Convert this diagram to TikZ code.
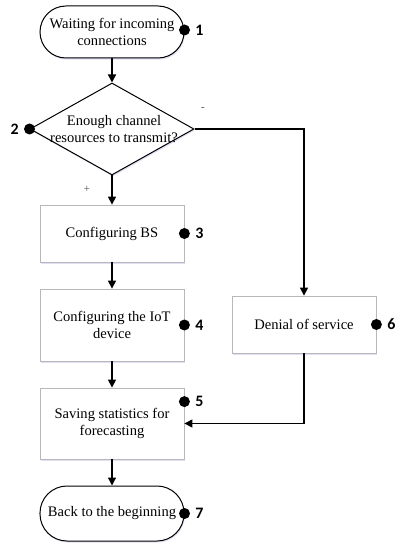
\documentclass[tikz,border=0pt]{standalone}
\usepackage{fontspec}
\setmainfont{Liberation Serif}
\newfontfamily\numfont{Carlito}
\usetikzlibrary{arrows.meta,shapes.geometric,shadows,positioning}

\begin{document}
\begin{tikzpicture}[x=1bp, y=-1bp,
  every node/.style={font=\fontsize{14.6}{17}\selectfont},
  blueshadow/.style={drop shadow={shadow xshift=0.8bp, shadow yshift=-1.6bp, fill=cyan!25!blue!12, opacity=1}},
  term/.style={draw, line width=1bp, rounded corners=26bp, minimum width=144bp, minimum height=52bp, inner sep=0pt, align=center, fill=white, blueshadow},
  decision/.style={draw, diamond, line width=1bp, minimum width=164bp, minimum height=92bp, inner sep=0pt, fill=white, blueshadow},
  procbox/.style={draw=black!28, line width=0.8bp, minimum width=144bp, minimum height=57bp, inner sep=0pt, align=center, fill=white, blueshadow},
  dot/.style={circle, fill=black, inner sep=0pt, minimum size=11bp},
  numfont/.style={font=\numfont\bfseries\fontsize{16}{16}\selectfont, inner sep=0pt},
  num/.style={numfont, right=5bp of #1},
  sign/.style={font=\fontsize{11}{11}\selectfont, text=black!70, inner sep=0pt},
  arr/.style={line width=1.3bp, -{Triangle[length=8bp, width=8bp]}}
]
\useasboundingbox (0,0) rectangle (404,550);

\node[term] (start) at (112,32) {Waiting for incoming\\connections};
\node[decision] (check) at (112,129) {};
\node[align=center, inner sep=0pt] (checktext) at ([xshift=2bp]check.center) {Enough channel\\resources to transmit?};
\node[procbox] (bs) at (112,233.5) {Configuring BS};
\node[procbox, minimum height=72bp] (iot) at (112,325) {Configuring the IoT\\device};
\node[procbox, minimum height=71bp] (save) at (112,423.5) {Saving statistics for\\forecasting};
\node[procbox] (deny) at (304,324.5) {Denial of service};
\node[term, minimum height=55bp, rounded corners=27bp] (back) at (112,513.5) {Back to the beginning};

\node[sign] (minus) at (203,109) {-};
\node[sign] (plus) at (87,189) {+};

\draw[arr] (start.south) -- (check.north);
\draw[arr] (check.south) -- (bs.north);
\draw[arr] (bs.south) -- (iot.north);
\draw[arr] (iot.south) -- (save.north);
\draw[arr] (save.south) -- (back.north);
\draw[arr] (check.east) -| (deny.north);
\draw[arr] (deny.south) |- (save.east);

\node[dot] (d1) at ([yshift=2bp]start.east) {};
\node[dot] (d2) at (check.west) {};
\node[dot] (d3) at (bs.east) {};
\node[dot] (d4) at (iot.east) {};
\node[dot] (d5) at ([yshift=-14bp]save.north east) {};
\node[dot] (d6) at (deny.east) {};
\node[dot] (d7) at (back.east) {};

\node[num=d1] (n1) {1};
\node[numfont, left=5bp of d2] (n2) {2};
\node[num=d3] (n3) {3};
\node[num=d4] (n4) {4};
\node[num=d5] (n5) {5};
\node[num=d6] (n6) {6};
\node[num=d7] (n7) {7};
\end{tikzpicture}
\end{document}
